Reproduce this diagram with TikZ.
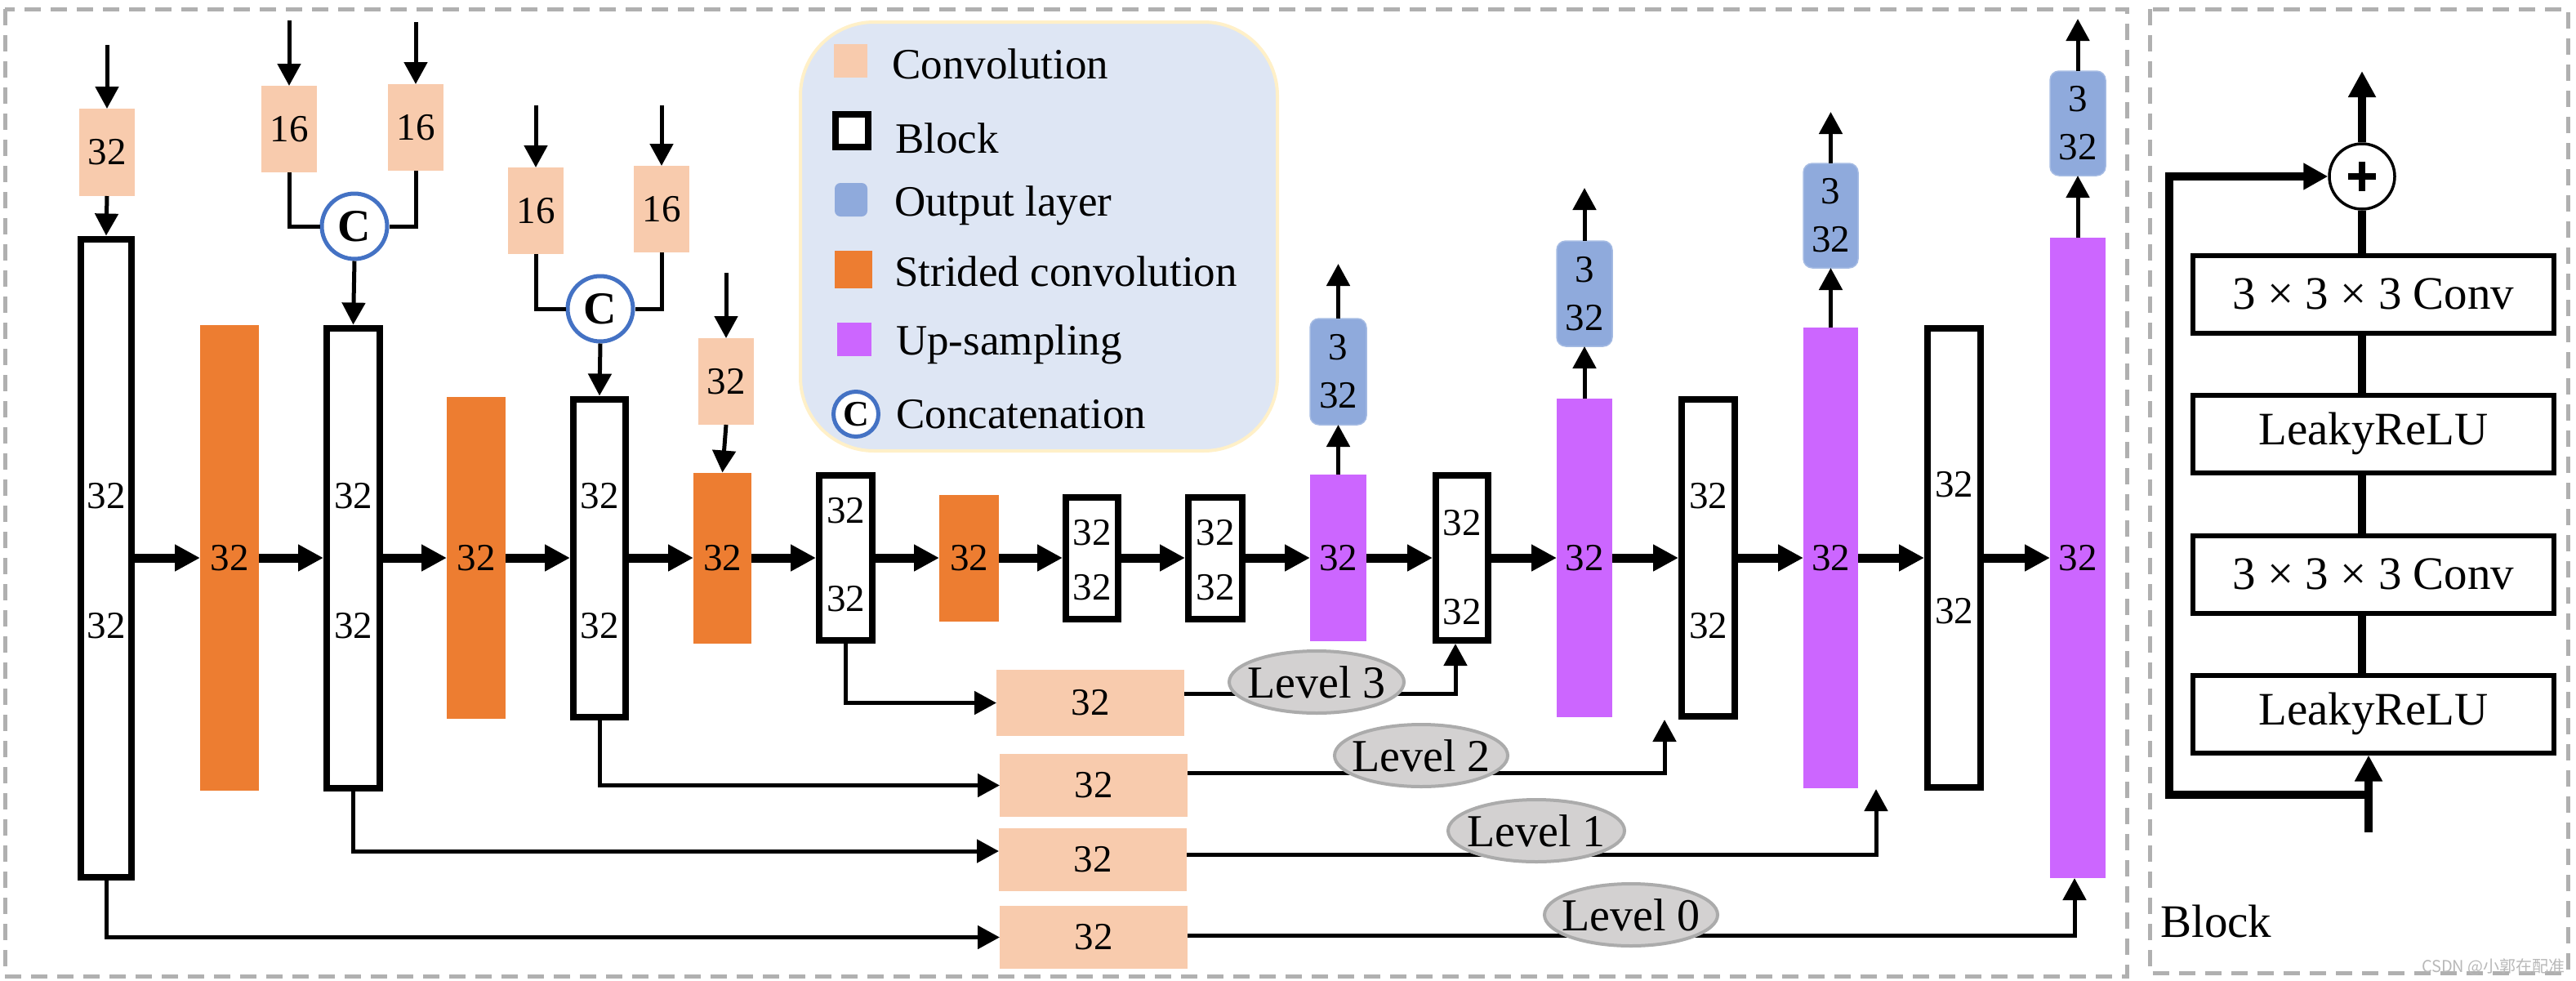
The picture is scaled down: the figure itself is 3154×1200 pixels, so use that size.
\documentclass[tikz,border=0pt]{standalone}
\usepackage{fontspec}
\setmainfont{Liberation Serif}
\newfontfamily\cjkfont{Noto Sans CJK SC}
\usetikzlibrary{arrows.meta,shapes.geometric}
\definecolor{convc}{HTML}{F8CBAD}
\definecolor{stridc}{HTML}{ED7D31}
\definecolor{upc}{HTML}{CC66FF}
\definecolor{outc}{HTML}{8FAADC}
\definecolor{legfill}{HTML}{DEE6F4}
\definecolor{legline}{HTML}{FFF0C8}
\definecolor{catblue}{HTML}{4472C4}
\definecolor{lvlfill}{HTML}{D3D1D1}
\definecolor{lvlline}{HTML}{ABABAB}
\definecolor{dashgray}{HTML}{B0B0B0}
\newcommand\myNum{\fontsize{47}{59}\selectfont}
\newcommand\myLeg{\fontsize{53}{60}\selectfont}
\newcommand\myLvl{\fontsize{56}{60}\selectfont}
\newcommand\myBig{\fontsize{57}{62}\selectfont}
\begin{document}
\begin{tikzpicture}[x=1pt,y=-1pt,
  conv/.style={rectangle,fill=convc,draw=none,inner sep=0pt,outer sep=0pt,font=\myNum},
  strid/.style={rectangle,fill=stridc,draw=none,inner sep=0pt,outer sep=0pt,font=\myNum},
  ups/.style={rectangle,fill=upc,draw=none,inner sep=0pt,outer sep=0pt,font=\myNum},
  outl/.style={rectangle,rounded corners=11pt,fill=outc,draw=outc!80!white,line width=1.5pt,inner sep=0pt,outer sep=0pt,font=\myNum,align=center},
  blk/.style={rectangle,draw=black,fill=white,line width=8pt,inner sep=0pt,outer sep=4pt},
  num/.style={inner sep=0pt,font=\myNum},
  cat/.style={circle,draw=catblue,fill=white,line width=5pt,inner sep=0pt,outer sep=2.5pt,minimum size=80pt,font=\fontsize{56}{56}\selectfont\bfseries},
  lvl/.style={ellipse,draw=lvlline,fill=lvlfill,line width=4pt,inner xsep=-18pt,inner ysep=0pt,minimum height=76pt,font=\myLvl},
  bigarr/.style={line width=11pt,-{Triangle[length=31pt,width=31pt]}},
  tarr/.style={line width=5pt,-{Triangle[length=27pt,width=28pt]}},
  tline/.style={line width=5pt},
  barr/.style={line width=10.5pt,-{Triangle[length=32pt,width=32pt]}},
  bline/.style={line width=10.5pt},
  pbox/.style={rectangle,draw=black,fill=white,line width=6pt,inner sep=0pt,outer sep=3pt,minimum width=442pt,minimum height=95pt,font=\myBig},
  frame/.style={draw=dashgray,line width=5pt,dash pattern=on 20pt off 12pt},
  legtext/.style={anchor=base west,inner sep=0pt,font=\myLeg}
]
\useasboundingbox (0,0) rectangle (3154,1200);

% frames
\draw[frame] (6,11) rectangle (2604,1195);
\draw[frame] (2632,11) rectangle (3144,1191);

% legend
\node[rectangle,rounded corners=90pt,fill=legfill,draw=legline,line width=4pt,minimum width=584pt,minimum height=525pt] (leg) at (1272,289.5) {};
\node[rectangle,fill=convc,minimum width=41pt,minimum height=41pt,inner sep=0pt] (lg1) at (1041.5,74.5) {};
\node[rectangle,draw=black,fill=white,line width=8pt,minimum width=40pt,minimum height=40pt,inner sep=0pt] (lg2) at (1043,160) {};
\node[rectangle,rounded corners=7pt,fill=outc,minimum width=40pt,minimum height=41pt,inner sep=0pt] (lg3) at (1042,244.5) {};
\node[rectangle,fill=stridc,minimum width=46pt,minimum height=46pt,inner sep=0pt] (lg4) at (1045,330) {};
\node[rectangle,fill=upc,minimum width=42pt,minimum height=41pt,inner sep=0pt] (lg5) at (1046,415.5) {};
\node[circle,draw=catblue,fill=white,line width=5pt,minimum size=55pt,inner sep=0pt,font=\fontsize{44}{44}\selectfont\bfseries] (lg6) at (1048,507) {C};
\node[legtext] (lt1) at (1092,96) {Convolution};
\node[legtext] (lt2) at (1096,187) {Block};
\node[legtext] (lt3) at (1095,264) {Output layer};
\node[legtext] (lt4) at (1095,350) {Strided convolution};
\node[legtext] (lt5) at (1097,434) {Up-sampling};
\node[legtext] (lt6) at (1097,524) {Concatenation};

% top convolutions
\node[conv,minimum width=68pt,minimum height=107pt] (c0) at (131,186.5) {32};
\node[conv,minimum width=68pt,minimum height=106pt] (c16a) at (354,158) {16};
\node[conv,minimum width=68pt,minimum height=106pt] (c16b) at (509,156) {16};
\node[conv,minimum width=68pt,minimum height=106pt] (c16c) at (656,258) {16};
\node[conv,minimum width=68pt,minimum height=106pt] (c16d) at (810,256) {16};
\node[conv,minimum width=68pt,minimum height=106pt] (c32b) at (889,467) {32};
\node[cat] (cat1) at (434,277) {C};
\node[cat] (cat2) at (735,378) {C};

% main row
\node[blk,minimum width=62pt,minimum height=781pt] (b1) at (130,683) {};
\node[strid,minimum width=72pt,minimum height=570pt] (s1) at (281,683) {32};
\node[blk,minimum width=65pt,minimum height=563pt] (b2) at (432.5,683) {};
\node[strid,minimum width=72pt,minimum height=394pt] (s2) at (583,683) {32};
\node[blk,minimum width=64pt,minimum height=389pt] (b3) at (734,683) {};
\node[strid,minimum width=71pt,minimum height=209pt] (s3) at (884.5,683) {32};
\node[blk,minimum width=65pt,minimum height=202pt] (b4) at (1035.5,683) {};
\node[strid,minimum width=73pt,minimum height=155pt] (s4) at (1186.5,683) {32};
\node[blk,minimum width=64pt,minimum height=149pt] (b5) at (1337,683) {};
\node[blk,minimum width=66pt,minimum height=149pt] (b6) at (1488,683) {};
\node[ups,minimum width=69pt,minimum height=204pt] (u1) at (1638.5,683) {32};
\node[blk,minimum width=64pt,minimum height=202pt] (b7) at (1790,683) {};
\node[ups,minimum width=68pt,minimum height=390pt] (u2) at (1940,683) {32};
\node[blk,minimum width=65pt,minimum height=388pt] (b8) at (2091.5,683) {};
\node[ups,minimum width=67pt,minimum height=564pt] (u3) at (2241.5,683) {32};
\node[blk,minimum width=65pt,minimum height=562pt] (b9) at (2392.5,683) {};
\node[ups,minimum width=68pt,minimum height=784pt] (u4) at (2544,683) {32};

% block labels
\node[num] (b1t) at (130,607) {32};   \node[num] (b1b) at (130,766) {32};
\node[num] (b2t) at (432.5,607) {32}; \node[num] (b2b) at (432.5,766) {32};
\node[num] (b3t) at (734,607) {32};   \node[num] (b3b) at (734,766) {32};
\node[num] (b4t) at (1035.5,625) {32};\node[num] (b4b) at (1035.5,733) {32};
\node[num] (b5t) at (1337,652) {32};  \node[num] (b5b) at (1337,719) {32};
\node[num] (b6t) at (1488,652) {32};  \node[num] (b6b) at (1488,719) {32};
\node[num] (b7t) at (1790,640) {32};  \node[num] (b7b) at (1790,749) {32};
\node[num] (b8t) at (2091.5,607) {32};\node[num] (b8b) at (2091.5,766) {32};
\node[num] (b9t) at (2392.5,593) {32};\node[num] (b9b) at (2392.5,748) {32};

% output layers
\node[outl,minimum width=69pt,minimum height=130pt] (o1) at (1638.5,455) {3\\32};
\node[outl,minimum width=68pt,minimum height=129pt] (o2) at (1940,359.5) {3\\32};
\node[outl,minimum width=67pt,minimum height=128pt] (o3) at (2241.5,264) {3\\32};
\node[outl,minimum width=68pt,minimum height=128pt] (o4) at (2544,151) {3\\32};

% bottom convolutions
\node[conv,minimum width=230pt,minimum height=81pt] (cL3) at (1335,860.5) {32};
\node[conv,minimum width=230pt,minimum height=77pt] (cL2) at (1339,961.5) {32};
\node[conv,minimum width=230pt,minimum height=77pt] (cL1) at (1338,1052.5) {32};
\node[conv,minimum width=230pt,minimum height=77pt] (cL0) at (1339,1147.5) {32};

% input arrows
\coordinate (i0) at (131,55);
\coordinate (ia) at (354,25);
\coordinate (ib) at (509,27);
\coordinate (ic) at (656,129);
\coordinate (id) at (810,129);
\coordinate (ie) at (889,334);
\draw[tarr] (i0) -- (c0.north);
\draw[tarr] (ia) -- (c16a.north);
\draw[tarr] (ib) -- (c16b.north);
\draw[tarr] (ic) -- (c16c.north);
\draw[tarr] (id) -- (c16d.north);
\draw[tarr] (ie) -- (c32b.north);
\draw[tarr] (c0.south) -- (b1.north);
\draw[tarr] (c32b.south) -- (s3.north);
\draw[tline] (c16a.south) |- (cat1.west);
\draw[tline] (c16b.south) |- (cat1.east);
\draw[tline] (c16c.south) |- (cat2.west);
\draw[tline] (c16d.south) |- (cat2.east);
\draw[tarr] (cat1.south) -- (b2.north);
\draw[tarr] (cat2.south) -- (b3.north);

% main arrows
\draw[bigarr] (b1.east) -- (s1.west);
\draw[bigarr] (s1.east) -- (b2.west);
\draw[bigarr] (b2.east) -- (s2.west);
\draw[bigarr] (s2.east) -- (b3.west);
\draw[bigarr] (b3.east) -- (s3.west);
\draw[bigarr] (s3.east) -- (b4.west);
\draw[bigarr] (b4.east) -- (s4.west);
\draw[bigarr] (s4.east) -- (b5.west);
\draw[bigarr] (b5.east) -- (b6.west);
\draw[bigarr] (b6.east) -- (u1.west);
\draw[bigarr] (u1.east) -- (b7.west);
\draw[bigarr] (b7.east) -- (u2.west);
\draw[bigarr] (u2.east) -- (b8.west);
\draw[bigarr] (b8.east) -- (u3.west);
\draw[bigarr] (u3.east) -- (b9.west);
\draw[bigarr] (b9.east) -- (u4.west);

% output arrows
\coordinate (t1) at (1638.5,323);
\coordinate (t2) at (1940,230);
\coordinate (t3) at (2241.5,137);
\coordinate (t4) at (2544,23);
\draw[tarr] (u1.north) -- (o1.south);
\draw[tarr] (u2.north) -- (o2.south);
\draw[tarr] (u3.north) -- (o3.south);
\draw[tarr] (u4.north) -- (o4.south);
\draw[tarr] (o1.north) -- (t1);
\draw[tarr] (o2.north) -- (t2);
\draw[tarr] (o3.north) -- (t3);
\draw[tarr] (o4.north) -- (t4);

% skip connections
\draw[tarr] (b4.south) |- (cL3.west);
\draw[tarr] (b3.south) |- (cL2.west);
\draw[tarr] (b2.south) |- ([yshift=10.5pt]cL1.west);
\draw[tarr] (b1.south) |- (cL0.west);
\coordinate (e2) at (2038,881);
\coordinate (e1) at (2297,966);
\draw[tarr] ([yshift=11.5pt]cL3.east) -| ([xshift=-8pt]b7.south);
\draw[tarr] ([yshift=15.5pt]cL2.east) -| (e2);
\draw[tarr] ([yshift=6.5pt]cL1.east) -| (e1);
\draw[tarr] ([yshift=2.5pt]cL0.east) -| ([xshift=-4pt]u4.south);

% level labels
\node[lvl,minimum width=214pt] (lv3) at (1612,835) {Level 3};
\node[lvl,minimum width=212pt] (lv2) at (1740,925) {Level 2};
\node[lvl,minimum width=216pt] (lv1) at (1881,1017) {Level 1};
\node[lvl,minimum width=212pt] (lv0) at (1997,1120) {Level 0};

% Block panel
\node[circle,draw=black,fill=white,line width=3.5pt,minimum size=80pt,inner sep=0pt,outer sep=1.75pt,
  path picture={\draw[line width=8pt] ([xshift=-17pt]path picture bounding box.center) -- ([xshift=17pt]path picture bounding box.center);
                \draw[line width=8pt] ([yshift=-18pt]path picture bounding box.center) -- ([yshift=18pt]path picture bounding box.center);}] (plus) at (2892,216) {};
\node[pbox] (bc1) at (2906,360) {3 × 3 × 3 Conv};
\node[pbox] (br1) at (2906,531) {LeakyReLU};
\node[pbox] (bc2) at (2906,703) {3 × 3 × 3 Conv};
\node[pbox] (br2) at (2906,874) {LeakyReLU};
\coordinate (pout) at (2892,87);
\coordinate (pin) at (2900,1019);
\coordinate (sk) at (2900,973);
\coordinate (skc) at (2656,973);
\draw[barr] (plus.north) -- (pout);
\draw[bline] (plus.south) -- (plus.south |- bc1.north);
\draw[bline] (plus.south |- bc1.south) -- (plus.south |- br1.north);
\draw[bline] (plus.south |- br1.south) -- (plus.south |- bc2.north);
\draw[bline] (plus.south |- bc2.south) -- (plus.south |- br2.north);
\draw[barr] (pin) -- (pin |- br2.south);
\draw[line width=10.5pt,-{Triangle[length=30pt,width=31pt]}] (sk) -- (skc) |- (plus.west);
\node[anchor=base west,inner sep=0pt,font=\myBig] (blab) at (2645,1147) {Block};
\node[anchor=base east,inner sep=0pt,font=\cjkfont\fontsize{20}{20}\selectfont,text=black!28] (wm) at (3141,1190) {CSDN @小郭在配准};
\end{tikzpicture}
\end{document}
